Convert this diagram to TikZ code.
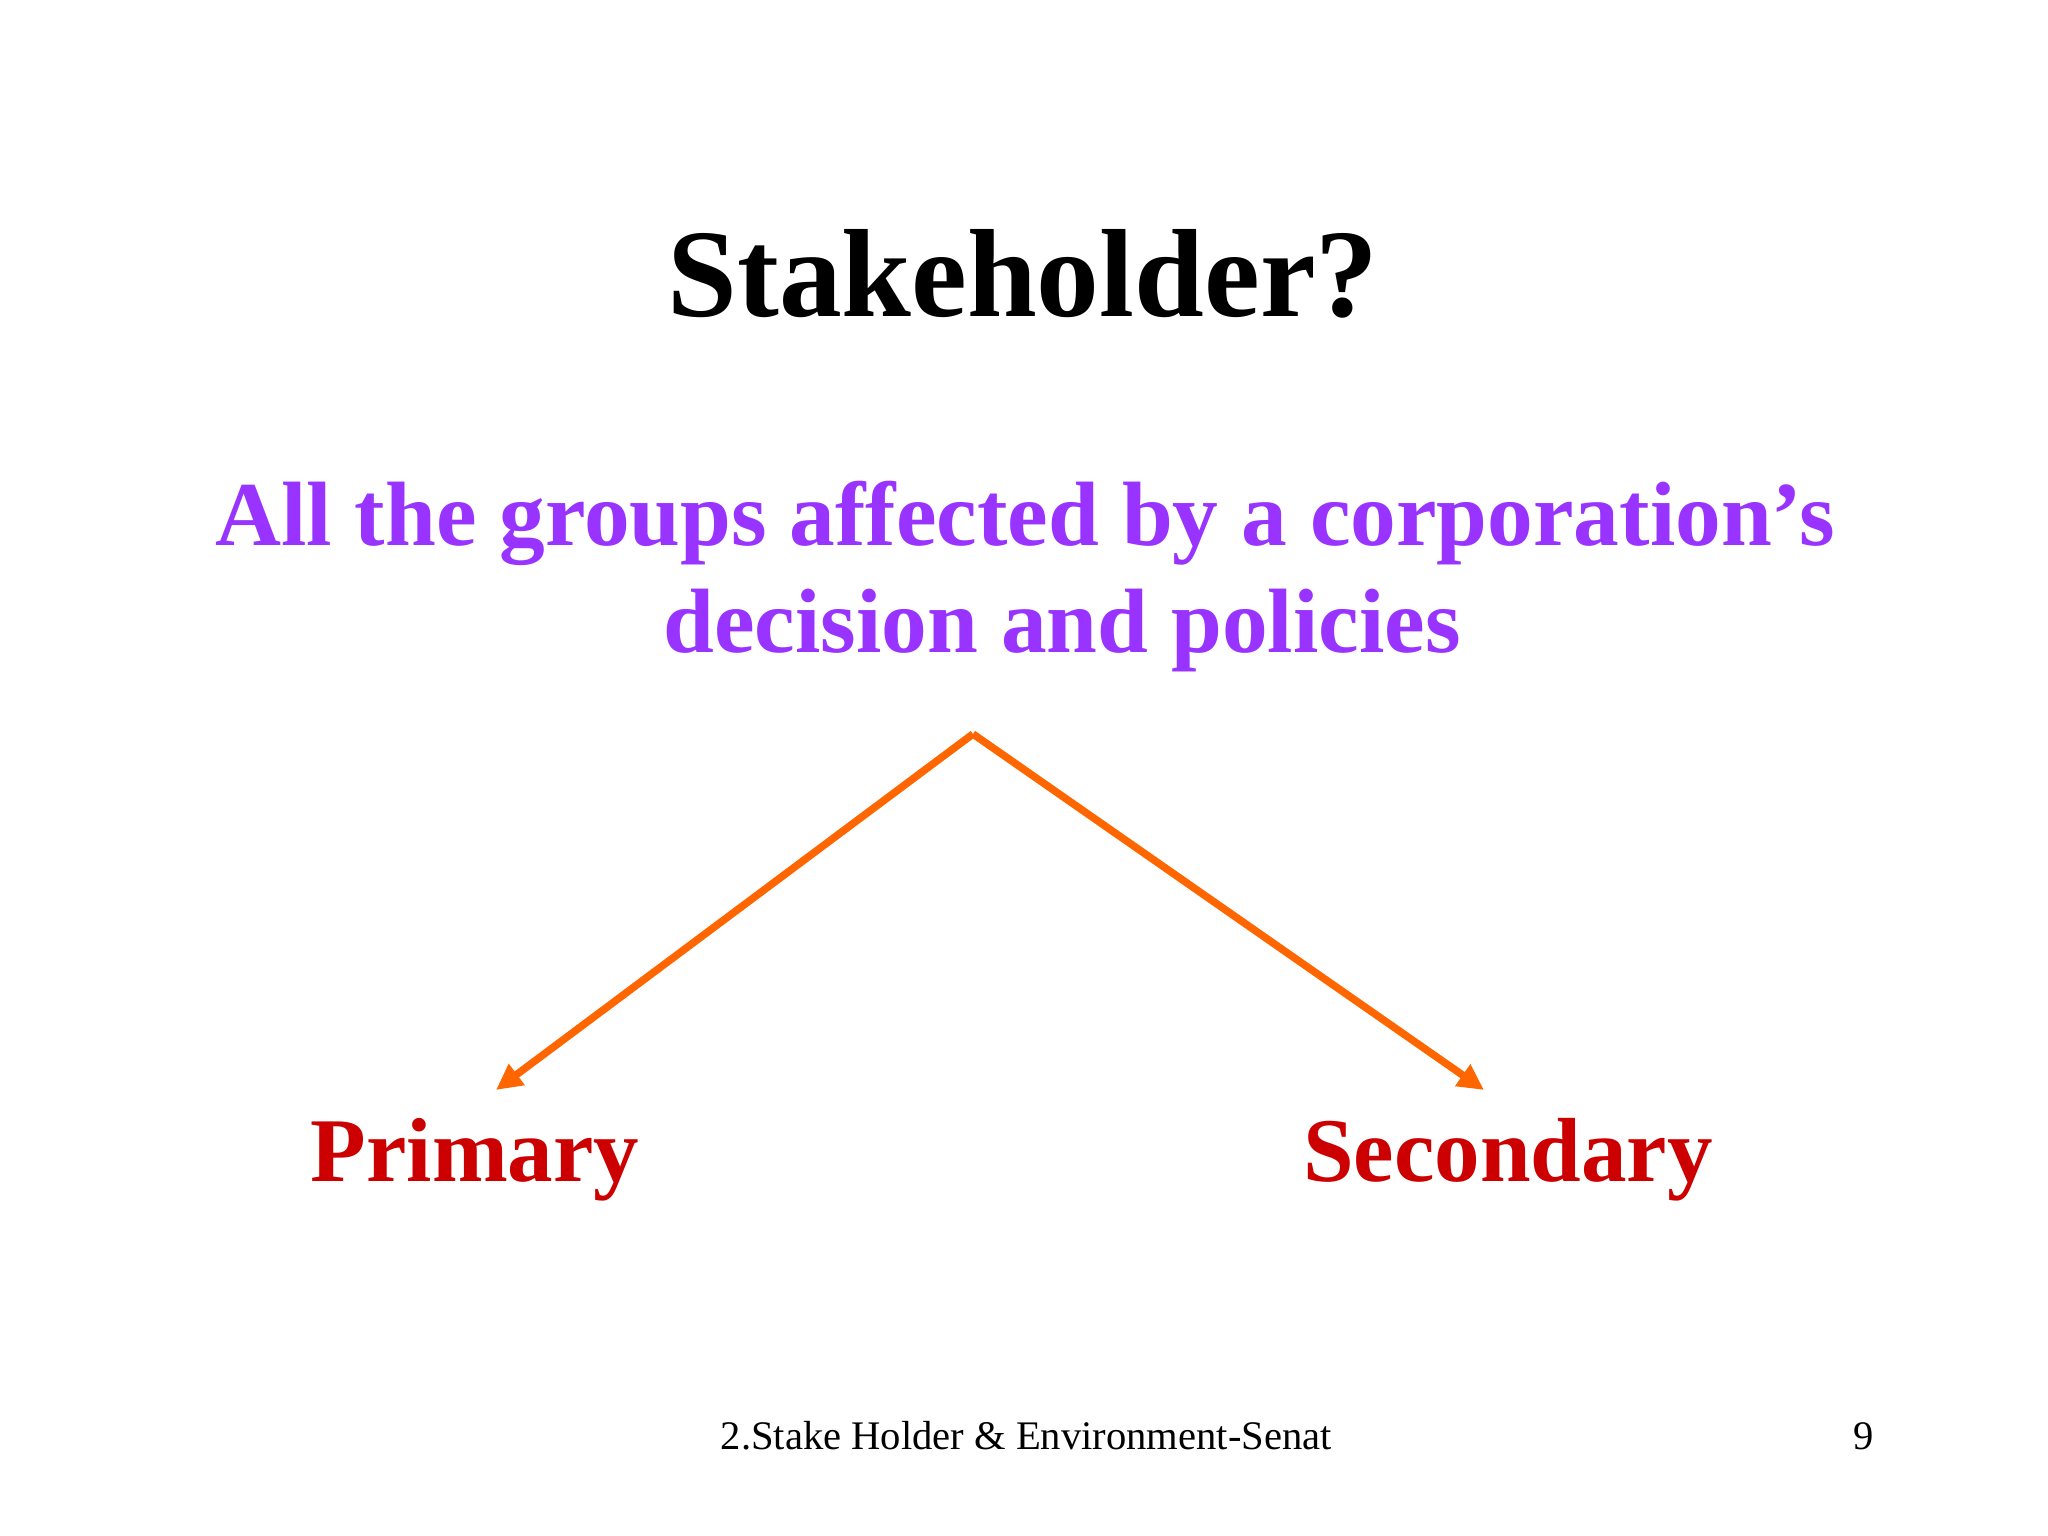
\documentclass[tikz,border=0pt]{standalone}
\usepackage{fontspec}
\setmainfont{Liberation Serif}
\usetikzlibrary{arrows.meta}
\definecolor{viola}{RGB}{153,51,255}
\definecolor{rosso}{RGB}{204,0,0}
\definecolor{arancio}{RGB}{255,102,0}
\begin{document}
\begin{tikzpicture}
    % Definizione stili
    \tikzstyle{titolo}=[font=\bfseries\fontsize{35.7}{43}\selectfont, anchor=base, inner sep=0pt]
    \tikzstyle{definizione}=[font=\bfseries\fontsize{26}{31}\selectfont, text=viola, anchor=base, inner sep=0pt]
    \tikzstyle{categoria}=[font=\bfseries\fontsize{25.9}{31}\selectfont, text=rosso, anchor=base, inner sep=0pt]
    \tikzstyle{piede}=[font=\fontsize{11.55}{14}\selectfont, anchor=base, inner sep=0pt]
    \tikzstyle{ramo}=[-{Triangle[length=0.26cm, width=0.25cm]}, line width=0.075cm, arancio]

    % Pagina
    \useasboundingbox[fill=white] (0,0) rectangle (20.48,15.36);

    % Titolo
    \node[titolo] (titolo) at (10.23,12.19) {Stakeholder?};

    % Definizione
    \node[definizione] (def_riga1) at (10.25,9.90) {All the groups affected by a corporation’s};
    \node[definizione] (def_riga2) at (10.62,8.83) {decision and policies};

    % Categorie
    \node[categoria] (primario) at (4.75,3.54) {Primary};
    \node[categoria] (secondario) at (15.08,3.54) {Secondary};

    % Frecce
    \coordinate (apice) at (9.73,8.02);
    \coordinate (punta_sx) at (4.96,4.46);
    \coordinate (punta_dx) at (14.84,4.46);
    \draw[ramo] (apice) -- (punta_sx);
    \draw[ramo] (apice) -- (punta_dx);

    % Piè di pagina
    \begin{scope}
        \clip (7.0,0.5) rectangle (13.30,1.4);
        \node[piede, anchor=base west] (piede_testo) at (7.20,0.86) {2.Stake Holder \& Environment-Senate};
    \end{scope}
    \node[piede] (numero) at (18.64,0.86) {9};
\end{tikzpicture}
\end{document}
